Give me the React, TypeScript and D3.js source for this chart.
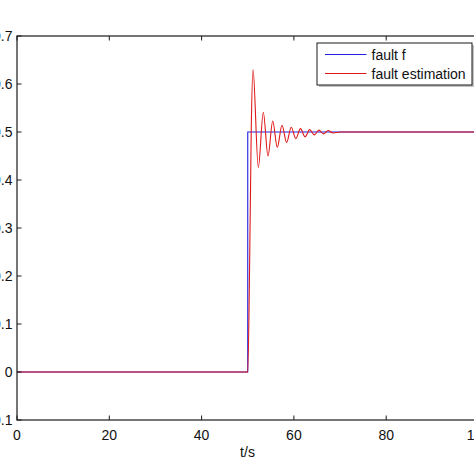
import React from "react";
import * as d3 from "d3";

const xTicks = [0, 20, 40, 60, 80, 100];
const yTicks = [-0.1, 0, 0.1, 0.2, 0.3, 0.4, 0.5, 0.6, 0.7];
const yTickLabels = ["-0.1", "0", "0.1", "0.2", "0.3", "0.4", "0.5", "0.6", "0.7"];

const faultT = [0, 50, 50, 100];
const faultF = [0, 0, 0.5, 0.5];

const estT = [0, 50, 50.4, 50.75, 51.14, 52.29, 53.37, 54.39, 55.41, 56.4, 57.42, 58.42, 59.42, 60.42, 61.42, 62.42, 63.42, 64.42, 65.42, 66.42, 67.42, 68.42, 70, 100];
const estV = [0, 0, 0.22, 0.5, 0.63, 0.426, 0.541, 0.45, 0.523, 0.468, 0.514, 0.478, 0.51, 0.486, 0.507, 0.49, 0.505, 0.494, 0.504, 0.496, 0.503, 0.498, 0.5, 0.5];

const legendLabels = ["fault f", "fault estimation"];
const colors = ["#2020e0", "#e01818"];

export default function App() {
  const W = 474, H = 474;
  const x = d3.scaleLinear().domain([0, 100]).range([17, 478.5]);
  const y = d3.scaleLinear().domain([-0.1, 0.7]).range([420, 36]);
  const left = x(0), right = x(100), top = y(0.7), bottom = y(-0.1);
  const font = "Liberation Sans, Arial, Helvetica, sans-serif";

  const lineF = d3.line<number>().x((_, i) => x(faultT[i])).y((d) => y(d));
  const lineE = d3.line<number>().x((_, i) => x(estT[i])).y((d) => y(d)).curve(d3.curveMonotoneX);

  const tickLen = 4.5;
  return (
    <svg width={W} height={H} style={{ position: "absolute", left: 0, top: 0, background: "#fff" }}>
      <rect x={0} y={0} width={W} height={H} fill="#fff" />
      <path d={lineF(faultF) || ""} fill="none" stroke={colors[0]} strokeWidth={1.1} />
      <path d={lineE(estV) || ""} fill="none" stroke={colors[1]} strokeWidth={1.1} />
      {/* axes box */}
      <rect x={left} y={top} width={right - left} height={bottom - top} fill="none" stroke="#1a1a1a" strokeWidth={1.2} />
      {xTicks.map((t) => (
        <g key={"x" + t}>
          <line x1={x(t)} x2={x(t)} y1={bottom} y2={bottom - tickLen} stroke="#1a1a1a" strokeWidth={1} />
          <line x1={x(t)} x2={x(t)} y1={top} y2={top + tickLen} stroke="#1a1a1a" strokeWidth={1} />
          <text x={x(t)} y={440} textAnchor="middle" fontFamily={font} fontSize={14} fill="#111">{t}</text>
        </g>
      ))}
      {yTicks.map((v, i) => (
        <g key={"y" + i}>
          <line x1={left} x2={left + tickLen} y1={y(v)} y2={y(v)} stroke="#1a1a1a" strokeWidth={1} />
          <line x1={right} x2={right - tickLen} y1={y(v)} y2={y(v)} stroke="#1a1a1a" strokeWidth={1} />
          <text x={12.5} y={y(v)} dy="0.36em" textAnchor="end" fontFamily={font} fontSize={14} fill="#111">{yTickLabels[i]}</text>
        </g>
      ))}
      <text x={247.5} y={457} textAnchor="middle" fontFamily={font} fontSize={14} fill="#111">t/s</text>
      {/* legend */}
      <rect x={319} y={45} width={155} height={42} fill="#888" opacity={0.5} />
      <rect x={317} y={43} width={155} height={42} fill="#fff" stroke="#1a1a1a" strokeWidth={1} />
      {legendLabels.map((lab, i) => (
        <g key={lab}>
          <line x1={325} x2={366.5} y1={54.5 + i * 19} y2={54.5 + i * 19} stroke={colors[i]} strokeWidth={1.1} />
          <text x={371.5} y={55 + i * 19} dy="0.36em" fontFamily={font} fontSize={14} fill="#111">{lab}</text>
        </g>
      ))}
    </svg>
  );
}
